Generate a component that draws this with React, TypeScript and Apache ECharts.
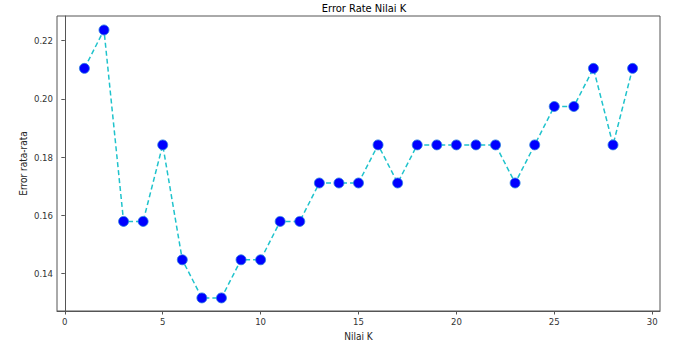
import React, { useEffect, useRef } from "react";
import * as echarts from "echarts";

const kValues = [1, 2, 3, 4, 5, 6, 7, 8, 9, 10, 11, 12, 13, 14, 15, 16, 17, 18, 19, 20, 21, 22, 23, 24, 25, 26, 27, 28, 29];
const errorRates = [
  0.2105, 0.2237, 0.1579, 0.1579, 0.1842, 0.1447, 0.1316, 0.1316, 0.1447, 0.1447,
  0.1579, 0.1579, 0.1711, 0.1711, 0.1711, 0.1842, 0.1711, 0.1842, 0.1842, 0.1842,
  0.1842, 0.1842, 0.1711, 0.1842, 0.1974, 0.1974, 0.2105, 0.1842, 0.2105,
];
const xTicks = [0, 5, 10, 15, 20, 25, 30];
const yTicks = [0.14, 0.16, 0.18, 0.2, 0.22];

export default function App() {
  const ref = useRef<HTMLDivElement>(null);
  useEffect(() => {
    if (!ref.current) return;
    const chart = echarts.init(ref.current, null, { renderer: "svg" });
    const font = "DejaVu Sans Condensed, DejaVu Sans";
    chart.setOption({
      animation: false,
      backgroundColor: "#ffffff",
      title: {
        text: "Error Rate Nilai K",
        left: 359,
        textAlign: "center",
        top: -2,
        textStyle: { fontFamily: font, fontSize: 11, fontWeight: "normal", color: "#000" },
      },
      grid: {
        left: 57,
        right: 23,
        top: 16,
        bottom: 36,
        show: true,
        borderColor: "#555",
        borderWidth: 1,
        backgroundColor: "transparent",
      },
      xAxis: {
        type: "value",
        min: -0.4,
        max: 30.4,
        name: "Nilai K",
        nameLocation: "middle",
        nameGap: 20,
        nameMoveOverlap: false,
        nameTextStyle: { fontFamily: font, fontSize: 10, color: "#222" },
        axisLine: { show: true, lineStyle: { color: "#555" } },
        axisTick: { show: true, length: 3.5, lineStyle: { color: "#555" }, customValues: xTicks },
        axisLabel: { fontFamily: font, fontSize: 9.5, color: "#333", margin: 5, customValues: xTicks, formatter: (v: number) => String(v) },
        splitLine: { show: false },
      },
      yAxis: {
        type: "value",
        min: 0.1271,
        max: 0.2285,
        name: "Error rata-rata",
        nameLocation: "middle",
        nameGap: 29,
        nameMoveOverlap: false,
        nameTextStyle: { fontFamily: font, fontSize: 10, color: "#222" },
        axisLine: { show: true, lineStyle: { color: "#555" } },
        axisTick: { show: true, length: 3.5, lineStyle: { color: "#555" }, customValues: yTicks },
        axisLabel: { fontFamily: font, fontSize: 9.5, color: "#333", margin: 4, customValues: yTicks, formatter: (v: number) => v.toFixed(2) },
        splitLine: { show: false },
      },
      series: [
        {
          type: "line",
          data: kValues.map((k, i) => [k, errorRates[i]]),
          lineStyle: { color: "#1fc3cc", width: 1.5, type: [5, 3] },
          symbol: "circle",
          symbolSize: 10,
          itemStyle: { color: "#0000ff", borderColor: "#2a7fe0", borderWidth: 0.8 },
          clip: false,
        },
      ],
    });
    return () => chart.dispose();
  }, []);
  return (
    <div
      ref={ref}
      style={{ position: "fixed", left: 0, top: 0, width: 683, height: 347 }}
    />
  );
}
